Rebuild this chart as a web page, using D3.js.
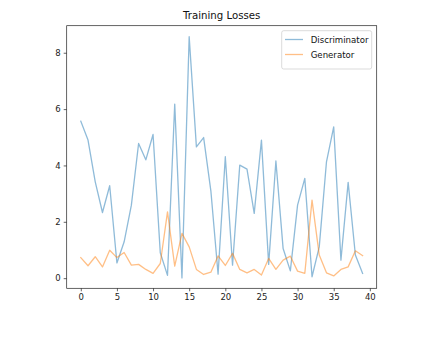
<!DOCTYPE html>
<html><head><meta charset="utf-8">
<script src="https://cdn.jsdelivr.net/npm/d3@7"></script>
<style>body{margin:0;background:#fff}svg{display:block;font-family:"DejaVu Sans",sans-serif}</style>
</head><body><svg id="c" width="435" height="337"></svg>
<script>
const title = "Training Losses";
const seriesNames = ["Discriminator", "Generator"];
const discriminator = [5.57,4.9,3.42,2.33,3.28,0.54,1.29,2.59,4.78,4.2,5.1,0.9,0.1,6.18,0.01,8.57,4.66,4.99,3.1,0.14,4.31,0.46,4.01,3.87,2.3,4.9,0.49,4.16,1.05,0.26,2.59,3.54,0.05,1.11,4.13,5.37,0.64,3.4,0.82,0.17];
const generator = [0.73,0.44,0.76,0.4,0.99,0.73,0.91,0.46,0.49,0.31,0.17,0.52,2.35,0.43,1.59,1.11,0.31,0.13,0.21,0.79,0.45,0.88,0.31,0.19,0.31,0.11,0.7,0.31,0.64,0.78,0.25,0.17,2.77,0.82,0.19,0.08,0.31,0.4,0.97,0.8];
const xTicks = [0,5,10,15,20,25,30,35,40];
const yTicks = [0,2,4,6,8];
const colors = ["#1f77b4", "#ff7f0e"];

const svg = d3.select("#c");
const L = 66.7, R = 376.7, T = 25.7, B = 288.3;
const x = d3.scaleLinear().domain([-1.95, 40.95]).range([L, R]);
const y = d3.scaleLinear().domain([-0.36, 8.96]).range([B, T]);

const line = d3.line().x((d,i)=>x(i)).y(d=>y(d));
[discriminator, generator].forEach((s,k)=>{
  svg.append("path").datum(s).attr("d", line).attr("fill","none")
    .attr("stroke", colors[k]).attr("stroke-opacity",0.5).attr("stroke-width",1.3)
    .attr("stroke-linejoin","round").attr("stroke-linecap","square");
});

const xa = svg.append("g").attr("transform",`translate(0,${B})`)
  .call(d3.axisBottom(x).tickValues(xTicks).tickFormat(d3.format("d")).tickSize(3).tickPadding(3));
const ya = svg.append("g").attr("transform",`translate(${L},0)`)
  .call(d3.axisLeft(y).tickValues(yTicks).tickFormat(d3.format("d")).tickSize(3).tickPadding(3));
[xa,ya].forEach(a=>{
  a.select(".domain").remove();
  a.selectAll("text").attr("font-size","8.5px").attr("fill","#222").attr("font-family","DejaVu Sans");
  a.selectAll("line").attr("stroke","#222").attr("stroke-width",0.7);
});
svg.append("rect").attr("x",L).attr("y",T).attr("width",R-L).attr("height",B-T)
  .attr("fill","none").attr("stroke","#222").attr("stroke-width",0.7);

svg.append("text").attr("x",(L+R)/2).attr("y",19).attr("text-anchor","middle")
  .attr("font-size","10.2px").attr("fill","#111").text(title);

const lg = svg.append("g");
lg.append("rect").attr("x",281.7).attr("y",30.7).attr("width",90).attr("height",38.3)
  .attr("rx",2).attr("fill","#fff").attr("fill-opacity",0.8).attr("stroke","#ccc").attr("stroke-width",0.7);
seriesNames.forEach((n,k)=>{
  const yy = 39.5 + k*15;
  lg.append("line").attr("x1",285).attr("x2",303).attr("y1",yy).attr("y2",yy)
    .attr("stroke",colors[k]).attr("stroke-opacity",0.5).attr("stroke-width",1.3);
  lg.append("text").attr("x",310.7).attr("y",yy).attr("dy","0.35em")
    .attr("font-size","8.6px").attr("fill","#111").text(n);
});
</script></body></html>
